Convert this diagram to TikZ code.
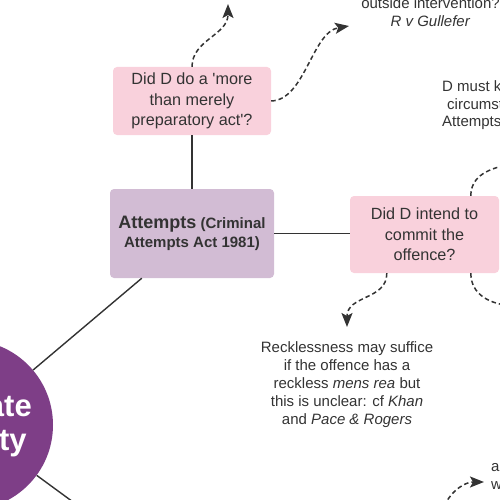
\documentclass[tikz,border=0pt]{standalone}
\usepackage{fontspec}
\setmainfont{Liberation Sans}[Ligatures=TeXOff]
\usetikzlibrary{arrows.meta,calc}
\definecolor{ink}{HTML}{333333}
\definecolor{pinkbox}{HTML}{F9D1DC}
\definecolor{lilac}{HTML}{D2BCD4}
\definecolor{plum}{HTML}{7E3E87}
\begin{document}
\begin{tikzpicture}[x=1pt,y=-1pt,
  qbox/.style={fill=pinkbox,rounded corners=4pt,inner sep=0pt,align=center,text=ink,font=\fontsize{16.2}{20.5}\selectfont},
  topic/.style={fill=lilac,rounded corners=4pt,inner sep=0pt,align=center,text=ink,font=\bfseries\fontsize{15}{19.5}\selectfont},
  hub/.style={circle,fill=plum,inner sep=0pt,minimum size=170pt,align=center,text=white,font=\bfseries\fontsize{31}{35}\selectfont},
  note/.style={align=center,text=ink,inner sep=0pt,font=\fontsize{15}{18}\selectfont},
  frag/.style={anchor=base west,text=ink,inner sep=0pt,font=\fontsize{15}{18}\selectfont},
  link/.style={draw=ink,line width=1.4pt},
  hint/.style={draw=ink,line width=1.5pt,dash pattern=on 4.5pt off 3pt,-{Stealth[length=14pt,width=11pt,inset=3pt]}},
  trail/.style={draw=ink,line width=1.5pt,dash pattern=on 4.5pt off 3pt},
]
\useasboundingbox (0,0) rectangle (500,500);
\clip (0,0) rectangle (500,500);

% hub circle
\node[hub] (hub) at (-32,425) {Inchoate\\[-1pt]Liability};

% boxes
\node[qbox,minimum width=158pt,minimum height=68pt] (act) at (192,101)
  {Did D do a 'more\\than merely\\preparatory act'?};
\node[topic,minimum width=164pt,minimum height=89pt] (att) at (192,233.5)
  {{\fontsize{18}{19.5}\selectfont Attempts} (Criminal\\Attempts Act 1981)};
\node[qbox,minimum width=149pt,minimum height=77pt] (intend) at (424.5,234.5)
  {Did D intend to\\commit the\\offence?};

% notes
\node[note] (gull) at (430.5,12) {outside intervention?\\\textit{R v Gullefer}};
\node[note] (reck) at (347,385)
  {Recklessness may suffice\\if the offence has a\\reckless \textit{mens rea} but\\this is unclear: cf \textit{Khan}\\and \textit{Pace \& Rogers}};
\node[frag] (know1) at (442,92) {D must know};
\node[frag] (know2) at (447,109.5) {circumstances};
\node[frag] (know3) at (442,127) {Attempts Act};
\node[frag] (bot1) at (491,471) {a};
\node[frag] (bot2) at (491,489) {w};

% coordinates
\coordinate (attsw) at ($(att.south west)+(32,0)$);
\coordinate (hubout) at (84,510);
\coordinate (ibl) at ($(intend.south west)+(37,0)$);
\coordinate (ibr) at ($(intend.south west)+(121,0)$);
\coordinate (itr) at ($(intend.north west)+(121,0)$);
\coordinate (upTip) at (228,4);
\coordinate (gullTip) at (349,26);
\coordinate (reckTip) at (347,327);
\coordinate (offTop) at (512,164);
\coordinate (offBot) at (512,306);
\coordinate (botStart) at (444,506);
\coordinate (botTip) at (484,482);

% solid links
\draw[link] (act.south) -- (att.north);
\draw[link] (att.east) -- (att.east -| intend.west);
\draw[link] (attsw) -- (hub);
\draw[link] (hub) -- (hubout);

% dashed links
\draw[hint] (act.north) .. controls (192,40) and (228,35) .. (upTip);
\draw[hint] (act.east) .. controls (305,100) and (312,32) .. (gullTip);
\draw[hint] (ibl) .. controls (387,300) and (347,295) .. (reckTip);
\draw[trail] (itr) .. controls (471,175) and (490,168) .. (offTop);
\draw[trail] (ibr) .. controls (471,295) and (490,304) .. (offBot);
\draw[hint] (botStart) .. controls (452,490) and (465,482) .. (botTip);
\end{tikzpicture}
\end{document}
